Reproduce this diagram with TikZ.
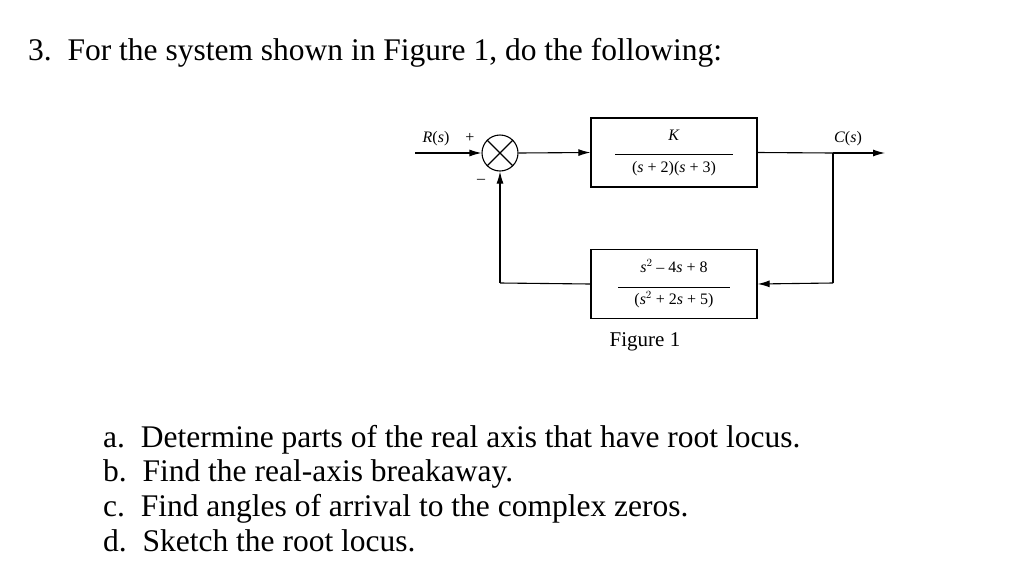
\documentclass[tikz,border=0pt]{standalone}
\usepackage{fontspec}
\setmainfont{Liberation Serif}
\usetikzlibrary{arrows.meta}
\newcommand{\vi}[1]{\textit{#1}}
\begin{document}
\begin{tikzpicture}[x=1pt,y=-1pt,
  blk/.style={draw,line width=1.3pt,minimum width=166pt,minimum height=69pt,inner sep=0pt},
  sig/.style={line width=1.1pt,-{Latex[length=12pt,width=7pt]}},
  ln/.style={line width=1.1pt},
  small/.style={font=\fontsize{16}{18}\selectfont},
  big/.style={font=\fontsize{31.5}{36}\selectfont,anchor=base west,inner sep=0pt}]
\useasboundingbox (0,0) rectangle (1036,584);
\node[big] (t) at (28,60) {3.\ \ For the system shown in Figure 1, do the following:};
\node[draw,circle,line width=1.1pt,minimum size=36pt,inner sep=0pt] (sum) at (500,153) {};
\draw[line width=1.1pt] (sum.45)--(sum.225) (sum.135)--(sum.315);
\coordinate (in) at (415,153);
\node[blk] (g) at (674,152.5) {};
\node[small,align=center,inner sep=1pt] (gt) at (674,152.5) {\vi{K}\\[-3pt]\rule{118pt}{0.8pt}\\[-1pt](\vi{s} + 2)(\vi{s} + 3)};
\node[blk] (h) at (674,284) {};
\node[small,align=center,inner sep=1pt] (ht) at (674,284) {\vi{s}$^{2}$ -- 4\vi{s} + 8\\[-3pt]\rule{112pt}{0.8pt}\\[-1pt](\vi{s}$^{2}$ + 2\vi{s} + 5)};
\coordinate (br) at (833,153);
\coordinate (out) at (885,153);
\coordinate (br2) at (833,283);
\coordinate (lc) at (500,283);
\draw[sig] (in)--(sum.west);
\draw[sig] (sum.east)--(g.west);
\draw[ln] (g.east)--(br);
\draw[sig] (br)--(out);
\draw[ln] (br)--(br2);
\draw[sig] (br2)--(h.east);
\draw[ln] (h.west)--(lc);
\draw[sig] (lc)--(sum.south);
\node[small] (r) at (436,139) {\vi{R}(\vi{s})};
\node[small] (p) at (470,138) {+};
\node[small] (m) at (481,181) {--};
\node[small] (c) at (848,139) {\vi{C}(\vi{s})};
\node[font=\fontsize{21}{24}\selectfont] (f) at (645,342) {Figure 1};
\node[big] (a) at (103,447) {a.\ \ Determine parts of the real axis that have root locus.};
\node[big] (b) at (103,481) {b.\ \ Find the real-axis breakaway.};
\node[big] (cc) at (103,516) {c.\ \ Find angles of arrival to the complex zeros.};
\node[big] (d) at (103,551) {d.\ \ Sketch the root locus.};
\end{tikzpicture}
\end{document}
